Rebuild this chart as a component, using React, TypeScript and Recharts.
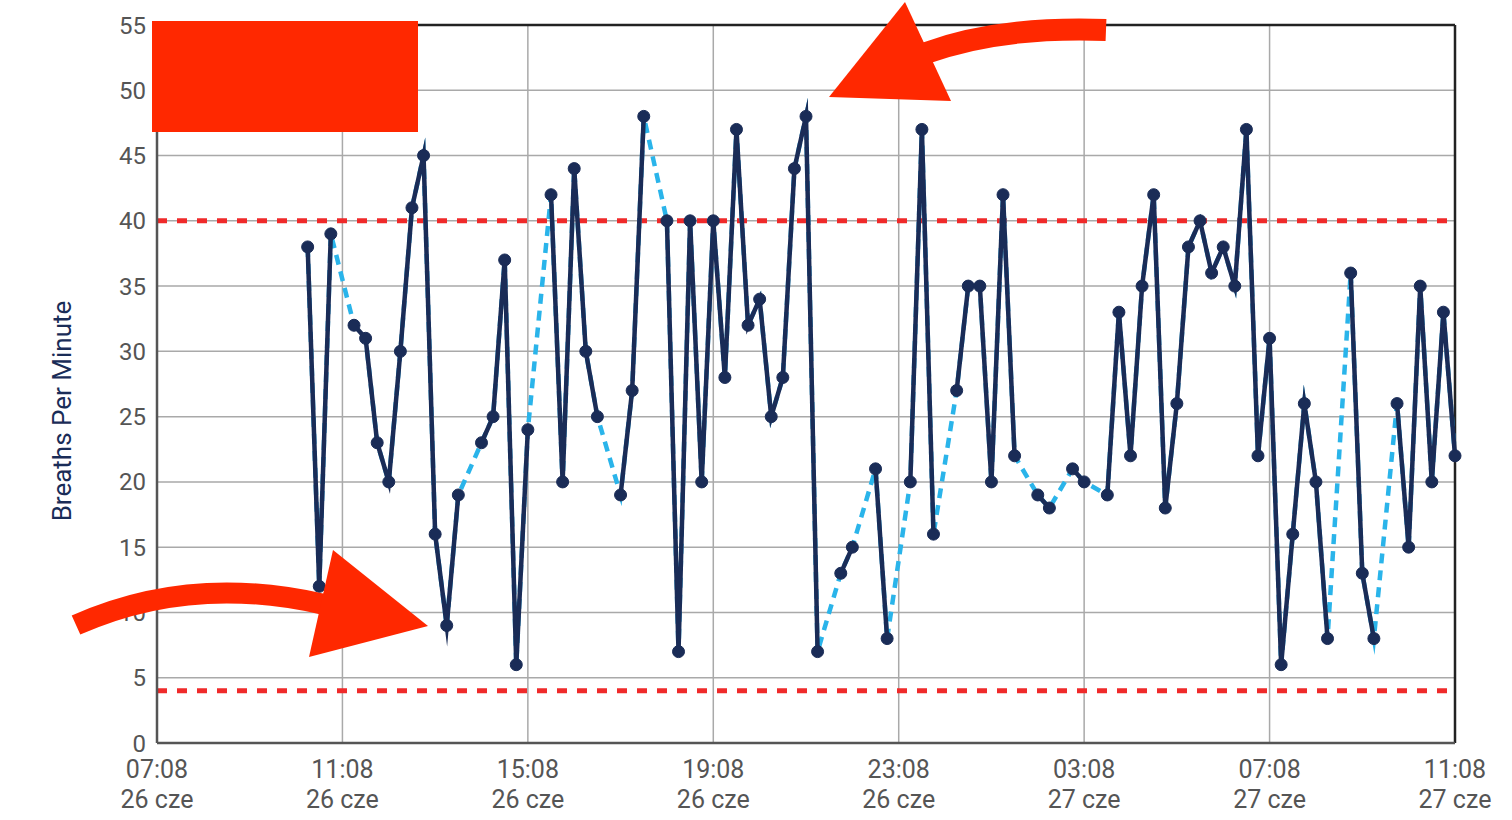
import React from "react";
import { LineChart, Line, XAxis, YAxis, CartesianGrid, ReferenceLine } from "recharts";

// x = quarter-hour slot counted from 07:08, 26 cze
const START_SLOT = 13;
const bpm: (number | null)[] = [
  38, 12, 39, null, 32, 31, 23, 20, 30, 41, 45, 16, 9, 19, null, 23, 25, 37, 6, 24,
  null, 42, 20, 44, 30, 25, null, 19, 27, 48, null, 40, 7, 40, 20, 40, 28, 47, 32, 34,
  25, 28, 44, 48, 7, null, 13, 15, null, 21, 8, null, 20, 47, 16, null, 27, 35, 35, 20,
  42, 22, null, 19, 18, null, 21, 20, null, 19, 33, 22, 35, 42, 18, 26, 38, 40, 36, 38,
  35, 47, 22, 31, 6, 16, 26, 20, 8, null, 36, 13, 8, null, 26, 15, 35, 20, 33, 22,
];

const X_TICKS = [0, 16, 32, 48, 64, 80, 96, 112];
const TIME_LABELS = ["07:08", "11:08", "15:08", "19:08", "23:08", "03:08", "07:08", "11:08"];
const DATE_LABELS = ["26 cze", "26 cze", "26 cze", "26 cze", "26 cze", "27 cze", "27 cze", "27 cze"];
const Y_TICKS = [0, 5, 10, 15, 20, 25, 30, 35, 40, 45, 50, 55];
const HIGH_LIMIT = 40;
const LOW_LIMIT = 4;

const NAVY = "#1a2c57";
const LIGHT_BLUE = "#2ab4ea";
const RED = "#ef2a2a";
const MARK = "#ff2800";

const data = bpm.map((v, i) => ({ slot: START_SLOT + i, bpm: v, gap: v }));

function TimeTick({ x, y, payload }: any) {
  const i = X_TICKS.indexOf(payload.value);
  return (
    <text x={x} y={y} textAnchor="middle" fill="#555" fontSize={25} fontFamily="Roboto">
      <tspan x={x} dy={35}>{TIME_LABELS[i]}</tspan>
      <tspan x={x} dy={30}>{DATE_LABELS[i]}</tspan>
    </text>
  );
}

export default function App() {
  return (
    <div style={{ position: "absolute", left: 0, top: 0, width: 1512, height: 820, background: "#fff" }}>
      <LineChart
        width={1512}
        height={820}
        data={data}
        margin={{ top: 25, right: 57, bottom: 0, left: 77 }}
        style={{ fontFamily: "Roboto" }}
      >
        <CartesianGrid stroke="#a9a9a9" strokeWidth={1.5} />
        <XAxis
          dataKey="slot"
          type="number"
          domain={[0, 112]}
          ticks={X_TICKS}
          height={77}
          tickSize={0}
          tickMargin={0}
          axisLine={{ stroke: "#555", strokeWidth: 2.5 }}
          tick={<TimeTick />}
        />
        <YAxis
          domain={[0, 55]}
          ticks={Y_TICKS}
          width={80}
          tickSize={0}
          tickMargin={11}
          axisLine={{ stroke: "#555", strokeWidth: 2.5 }}
          tick={{ fill: "#555", fontSize: 24 }}
          label={{
            content: () => (
              <text
                x={62}
                y={411}
                transform="rotate(-90 62 411)"
                textAnchor="middle"
                dominantBaseline="central"
                fill={NAVY}
                fontSize={26}
                fontFamily="Roboto"
              >
                Breaths Per Minute
              </text>
            ),
          }}
        />
        <ReferenceLine y={55} stroke="#222" strokeWidth={2.5} />
        <ReferenceLine x={112} stroke="#222" strokeWidth={2.5} />
        <ReferenceLine y={HIGH_LIMIT} stroke={RED} strokeWidth={5} strokeDasharray="10 10" />
        <ReferenceLine y={LOW_LIMIT} stroke={RED} strokeWidth={5} strokeDasharray="10 10" />
        <Line
          dataKey="gap"
          stroke={LIGHT_BLUE}
          strokeWidth={4.5}
          strokeDasharray="10 7"
          strokeMiterlimit={10}
          connectNulls
          dot={false}
          activeDot={false}
          isAnimationActive={false}
        />
        <Line
          dataKey="bpm"
          stroke={NAVY}
          strokeWidth={4.5}
          strokeMiterlimit={10}
          dot={{ r: 6, fill: NAVY, stroke: NAVY, strokeWidth: 1 }}
          activeDot={false}
          isAnimationActive={false}
        />
      </LineChart>
      {/* annotation marks drawn on top of the chart */}
      <svg width={1512} height={820} style={{ position: "absolute", left: 0, top: 0, pointerEvents: "none" }}>
        <rect x={152} y={21} width={266} height={111} fill={MARK} />
        <path d="M1106,30 Q1000,26 926,53" stroke={MARK} strokeWidth={22} fill="none" />
        <polygon points="829,97 905,2 951,101" fill={MARK} />
        <path d="M76,625 Q190,574 322,604" stroke={MARK} strokeWidth={21} fill="none" />
        <polygon points="333,550 428,626 309,657" fill={MARK} />
      </svg>
    </div>
  );
}
